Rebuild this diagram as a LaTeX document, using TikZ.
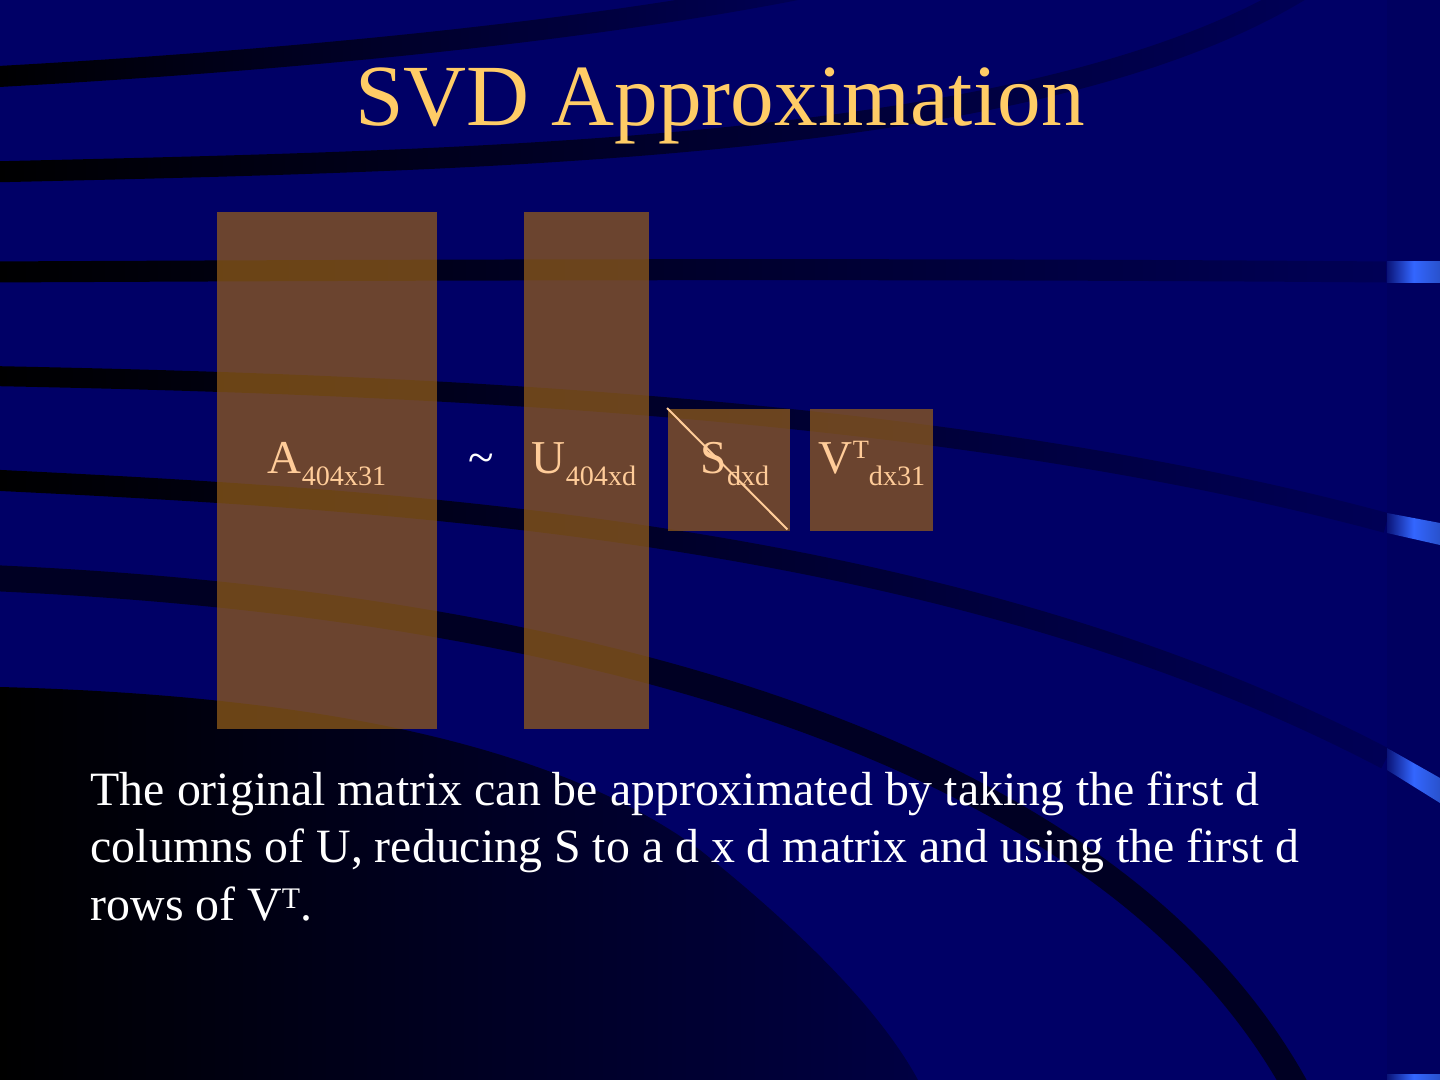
\documentclass[tikz,border=0pt]{standalone}
\usepackage{fontspec}
\setmainfont{Liberation Serif}
\usetikzlibrary{positioning,fadings}

\definecolor{slideblue}{RGB}{0,0,102}
\definecolor{titlegold}{RGB}{255,204,102}
\definecolor{peach}{RGB}{255,204,153}
\definecolor{matbrown}{RGB}{153,97,25}
\definecolor{glintblue}{RGB}{51,102,255}
\definecolor{glintdark}{RGB}{10,20,120}

\tikzfading[name=ribbon fade, left color=transparent!0, right color=transparent!85]

\newcommand{\matsub}[1]{\raisebox{-3.3pt}{\fontsize{8pt}{10pt}\selectfont #1}}
\newcommand{\matsup}[1]{\raisebox{4.5pt}{\fontsize{7.5pt}{9pt}\selectfont #1}}

\begin{document}
\begin{tikzpicture}[x=0.01cm, y=-0.01cm,
    ribbon/.style={draw=black, line width=0.21cm, path fading=ribbon fade},
    glint/.style={left color=glintdark, right color=glintblue!80!black, middle color=glintblue},
    matbox/.style={fill=matbrown, fill opacity=0.7, inner sep=0, anchor=north west},
    matlabel/.style={text=peach, font=\fontsize{13.4pt}{16pt}\selectfont, inner sep=0, anchor=base},
    body/.style={text=white, font=\fontsize{13.6pt}{16pt}\selectfont, inner sep=0, anchor=base west}
  ]
  \useasboundingbox (0,0) rectangle (1440,1080);
  \clip (0,0) rectangle (1440,1080);
  %% Slide background
  \fill[slideblue] (0,0) rectangle (1440,1080);
  \fill[slideblue!94!black] (1387,0) rectangle (1440,1080);
  \shade[left color=black, right color=slideblue!65!black]
    (0,687) .. controls (300,695) and (550,740) .. (700,850)
    .. controls (800,930) and (880,1010) .. (918,1080) -- (0,1080) -- cycle;
  %% Ribbons
  \draw[ribbon] (-10,77) .. controls (300,60) and (600,30) .. (820,-15);
  \draw[ribbon] (-10,172) .. controls (500,160) and (1050,150) .. (1310,-15);
  \draw[ribbon] (-10,272) .. controls (400,270) and (900,268) .. (1387,272);
  \draw[ribbon, line width=0.2cm] (-10,376) .. controls (400,384) and (950,405) .. (1387,523);
  \draw[ribbon] (-10,480) .. controls (400,500) and (950,530) .. (1387,759);
  \draw[black, draw opacity=0.65, line width=0.26cm]
    (-10,578) .. controls (500,600) and (1100,720) .. (1300,1095);
  %% Glints on the right edge
  \shade[glint] (1387,262) -- (1440,262) -- (1440,283) -- (1387,283) -- cycle;
  \shade[glint] (1387,513) -- (1440,523) -- (1440,545) -- (1387,533) -- cycle;
  \shade[glint] (1387,748) -- (1440,778) -- (1440,803) -- (1387,770) -- cycle;
  \shade[glint] (1387,1074) -- (1440,1074) -- (1440,1080) -- (1387,1080) -- cycle;

  %% Title
  \node[text=titlegold, font=\fontsize{24.8pt}{30pt}\selectfont, anchor=base, inner sep=0]
    (title) at (720,126) {SVD Approximation};

  %% Matrices
  \node[matbox, minimum width=2.2cm, minimum height=5.17cm] (mat-a) at (216,211) {};
  \node[matbox, minimum width=1.25cm, minimum height=5.17cm] (mat-u) at (523,211) {};
  \node[matbox, minimum width=1.22cm, minimum height=1.22cm] (mat-s) at (667,408) {};
  \node[matbox, minimum width=1.23cm, minimum height=1.22cm] (mat-v) at (809,408) {};
  \draw[peach, line width=0.02cm] (mat-s.north west) -- ([shift={(-3,-2)}]mat-s.south east);

  \node[matlabel] (lbl-a) at (327,474) {A\matsub{404x31}};
  \node[text=white, font=\fontsize{13.4pt}{16pt}\selectfont, anchor=base, inner sep=0]
    (approx) at (481,474) {\textasciitilde};
  \node[matlabel] (lbl-u) at (584,474) {U\matsub{404xd}};
  \node[matlabel] (lbl-s) at (735,474) {S\matsub{dxd}};
  \node[matlabel] (lbl-v) at (872,474) {V\matsup{T}\matsub{dx31}};

  %% Text
  \node[body] (body-1) at (90,805) {The original matrix can be approximated by taking the first d};
  \node[body] (body-2) at (90,862) {columns of U, reducing S to a d x d matrix and using the first d};
  \node[body] (body-3) at (90,920) {rows of V\raisebox{3.4pt}{\fontsize{8.5pt}{10pt}\selectfont T}.};
\end{tikzpicture}
\end{document}
